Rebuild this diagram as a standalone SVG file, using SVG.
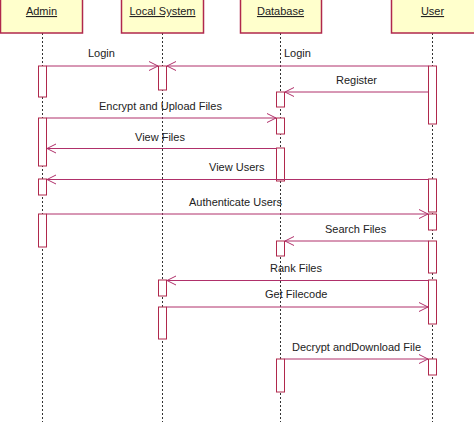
<svg xmlns="http://www.w3.org/2000/svg" width="474" height="422" viewBox="0 0 474 422">
<style>
.head{fill:#ffffcc;stroke:#b0284c;stroke-width:1.5}
.title{font-family:"Liberation Sans",Arial,sans-serif;font-size:11px;fill:#222;text-anchor:middle;text-decoration:underline}
.life{stroke:#333;stroke-width:1;stroke-dasharray:2,2;fill:none}
.act{fill:#fff;stroke:#b0284c;stroke-width:1}
.msg{stroke:#b0306a;stroke-width:1;fill:none}
.lbl{font-family:"Liberation Sans",Arial,sans-serif;font-size:11px;fill:#222}
</style>
<defs>
<marker id="open" markerUnits="userSpaceOnUse" markerWidth="12" markerHeight="12" refX="10" refY="5" orient="auto">
<path d="M1,0.5 L10,5 L1,9.5" fill="none" stroke="#b0306a" stroke-width="1"/>
</marker>
</defs>
<rect width="474" height="422" fill="#fff"/>
<g id="lifelines">
<line class="life" x1="42.5" y1="33" x2="42.5" y2="422"/>
<line class="life" x1="162.5" y1="33" x2="162.5" y2="422"/>
<line class="life" x1="280.5" y1="33" x2="280.5" y2="422"/>
<line class="life" x1="432.5" y1="33" x2="432.5" y2="422"/>
</g>
<g id="admin">
<rect class="head" x="0.5" y="-1" width="82" height="34"/>
<text class="title" x="41.5" y="15">Admin</text>
<rect class="act" x="38.5" y="66" width="8" height="31"/>
<rect class="act" x="38.5" y="118" width="8" height="48"/>
<rect class="act" x="38.5" y="179" width="8" height="16"/>
<rect class="act" x="38.5" y="214" width="8" height="33"/>
</g>
<g id="local-system">
<rect class="head" x="121.5" y="-1" width="82" height="34"/>
<text class="title" x="162.5" y="15">Local System</text>
<rect class="act" x="158.5" y="66" width="8" height="24"/>
<rect class="act" x="158.5" y="280" width="8" height="16"/>
<rect class="act" x="158.5" y="307" width="8" height="32"/>
</g>
<g id="database">
<rect class="head" x="240.5" y="-1" width="81" height="34"/>
<text class="title" x="280.5" y="15">Database</text>
<rect class="act" x="276.5" y="92" width="8" height="15"/>
<rect class="act" x="276.5" y="118" width="8" height="16"/>
<rect class="act" x="276.5" y="148" width="8" height="33"/>
<rect class="act" x="276.5" y="241" width="8" height="15"/>
<rect class="act" x="276.5" y="359" width="8" height="33"/>
</g>
<g id="user">
<rect class="head" x="391.5" y="-1" width="84" height="34"/>
<text class="title" x="432.5" y="15">User</text>
<rect class="act" x="428.5" y="66" width="8" height="58"/>
<rect class="act" x="428.5" y="179" width="8" height="33"/>
<rect class="act" x="428.5" y="214" width="8" height="16"/>
<rect class="act" x="428.5" y="241" width="8" height="32"/>
<rect class="act" x="428.5" y="280" width="8" height="44"/>
<rect class="act" x="428.5" y="359" width="8" height="16"/>
</g>
<g id="connectors">
<line class="msg" x1="46.5" y1="66" x2="158" y2="66" marker-end="url(#open)"/>
<line class="msg" x1="428.5" y1="66" x2="167" y2="66" marker-end="url(#open)"/>
<line class="msg" x1="428.5" y1="92" x2="285" y2="92" marker-end="url(#open)"/>
<line class="msg" x1="46.5" y1="118" x2="276" y2="118" marker-end="url(#open)"/>
<line class="msg" x1="276.5" y1="148.5" x2="47" y2="148.5" marker-end="url(#open)"/>
<line class="msg" x1="428.5" y1="179.5" x2="47" y2="179.5" marker-end="url(#open)"/>
<line class="msg" x1="46.5" y1="214" x2="428" y2="214" marker-end="url(#open)"/>
<line class="msg" x1="428.5" y1="241" x2="285" y2="241" marker-end="url(#open)"/>
<line class="msg" x1="428.5" y1="280.5" x2="167" y2="280.5" marker-end="url(#open)"/>
<line class="msg" x1="166.5" y1="307" x2="428" y2="307" marker-end="url(#open)"/>
<line class="msg" x1="284.5" y1="359" x2="428" y2="359" marker-end="url(#open)"/>
<text class="lbl" x="88" y="57">Login</text>
<text class="lbl" x="284" y="57">Login</text>
<text class="lbl" x="336" y="84">Register</text>
<text class="lbl" x="99" y="110">Encrypt and Upload Files</text>
<text class="lbl" x="135" y="141">View Files</text>
<text class="lbl" x="209" y="171">View Users</text>
<text class="lbl" x="189" y="206">Authenticate Users</text>
<text class="lbl" x="325" y="233">Search Files</text>
<text class="lbl" x="270" y="272">Rank Files</text>
<text class="lbl" x="265" y="298">Get Filecode</text>
<text class="lbl" x="292" y="351">Decrypt andDownload File</text>
</g>
</svg>
